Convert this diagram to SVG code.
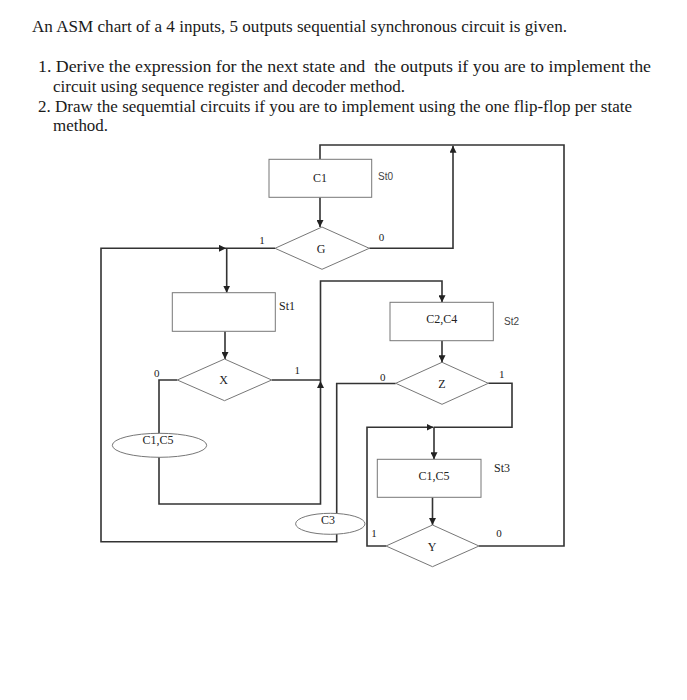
<svg xmlns="http://www.w3.org/2000/svg" width="687" height="700" viewBox="0 0 687 700">
<style>
.q{font-family:"Liberation Serif","Times New Roman",serif;font-size:16px;fill:#1a1a1a;white-space:pre}
.t{font-family:"Liberation Serif","Times New Roman",serif;font-size:12px;fill:#222;text-anchor:middle}
.s{font-family:"Liberation Serif","Times New Roman",serif;font-size:12px;fill:#222}
.ss{font-family:"Liberation Sans",Arial,sans-serif;font-size:10px;fill:#444}
.l{font-family:"Liberation Serif","Times New Roman",serif;font-size:11px;fill:#222;text-anchor:middle}
.box{fill:#fff;stroke:#777;stroke-width:1}
.c{fill:none;stroke:#333;stroke-width:1.6}
</style>
<defs>
<marker id="a" viewBox="0 0 10 10" refX="10" refY="5" markerWidth="7" markerHeight="7" markerUnits="userSpaceOnUse" orient="auto">
<path d="M0,0 L10,5 L0,10 z" fill="#222"/>
</marker>
</defs>
<rect width="687" height="700" fill="#fff"/>
<g id="question">
<text class="q" x="32" y="32" textLength="535" lengthAdjust="spacingAndGlyphs">An ASM chart of a 4 inputs, 5 outputs sequential synchronous circuit is given.</text>
<text class="q" x="38" y="72" textLength="613" lengthAdjust="spacingAndGlyphs">1. Derive the expression for the next state and  the outputs if you are to implement the</text>
<text class="q" x="53" y="91.5" textLength="352" lengthAdjust="spacingAndGlyphs">circuit using sequence register and decoder method.</text>
<text class="q" x="38" y="111.5" textLength="594" lengthAdjust="spacingAndGlyphs">2. Draw the sequemtial circuits if you are to implement using the one flip-flop per state</text>
<text class="q" x="53" y="131" textLength="55" lengthAdjust="spacingAndGlyphs">method.</text>
</g>
<g id="connectors">
<path class="c" d="M479,546 H564 V145 H320 V159.3"/>
<path class="c" d="M369.3,248.3 H453 V145.8" marker-end="url(#a)"/>
<path class="c" d="M320,197.3 V227" marker-end="url(#a)"/>
<path class="c" d="M275,248.3 H226.7 V292.7" marker-end="url(#a)"/>
<path class="c" d="M395.7,383.5 H336.7 V541.7 H101 V248.3 H226" marker-end="url(#a)"/>
<path class="c" d="M225,331.3 V359" marker-end="url(#a)"/>
<path class="c" d="M271.7,380 H320.5"/>
<path class="c" d="M177.3,380 H159 V504 H320.5 V381" marker-end="url(#a)"/>
<path class="c" d="M320.5,381 V281 H442 V302.3" marker-end="url(#a)"/>
<path class="c" d="M442,340.7 V362.3" marker-end="url(#a)"/>
<path class="c" d="M488.3,383.3 H512 V427.3 H434"/>
<path class="c" d="M386,546 H367 V427.3 H433.5" marker-end="url(#a)"/>
<path class="c" d="M434,427.3 V459.3" marker-end="url(#a)"/>
<path class="c" d="M432.5,497.3 V525" marker-end="url(#a)"/>
</g>
<g id="St0">
<rect class="box" x="269" y="159.3" width="102.7" height="38"/>
<text class="t" x="320" y="182">C1</text>
<text class="ss" x="378" y="180">St0</text>
</g>
<g id="G">
<polygon class="box" points="322,227 369.3,248.3 322,269.3 275,248.3"/>
<text class="t" x="321" y="252.5">G</text>
<text class="l" x="262" y="244">1</text>
<text class="l" x="381.5" y="240.5">0</text>
</g>
<g id="St1">
<rect class="box" x="172.3" y="292.7" width="103" height="38.6"/>
<text class="s" x="279" y="310">St1</text>
</g>
<g id="X">
<polygon class="box" points="224.5,359 271.7,380 224.5,400.7 177.3,380"/>
<text class="t" x="223.5" y="384">X</text>
<text class="l" x="156.7" y="377">0</text>
<text class="l" x="297.3" y="374">1</text>
</g>
<g id="C1C5_cond">
<ellipse class="box" cx="159.5" cy="445.3" rx="47.2" ry="12"/>
<text class="t" x="158" y="444">C1,C5</text>
</g>
<g id="St2">
<rect class="box" x="390" y="302.3" width="103.3" height="38.4"/>
<text class="t" x="441.7" y="323">C2,C4</text>
<text class="ss" x="504" y="325">St2</text>
</g>
<g id="Z">
<polygon class="box" points="442,362.3 488.3,383.3 442,404.3 395.7,383.3"/>
<text class="t" x="442" y="388">Z</text>
<text class="l" x="382.7" y="381">0</text>
<text class="l" x="501.7" y="378">1</text>
</g>
<g id="C3_cond">
<ellipse class="box" cx="330.3" cy="523.8" rx="34.7" ry="10.5"/>
<text class="t" x="328" y="524">C3</text>
</g>
<g id="St3">
<rect class="box" x="377.3" y="459.3" width="103.7" height="38"/>
<text class="t" x="434" y="479.5">C1,C5</text>
<text class="s" x="494" y="472">St3</text>
</g>
<g id="Y">
<polygon class="box" points="432.5,525 479,546 432.5,566.7 386,546"/>
<text class="t" x="432" y="551">Y</text>
<text class="l" x="374" y="537">1</text>
<text class="l" x="499" y="537">0</text>
</g>
</svg>
